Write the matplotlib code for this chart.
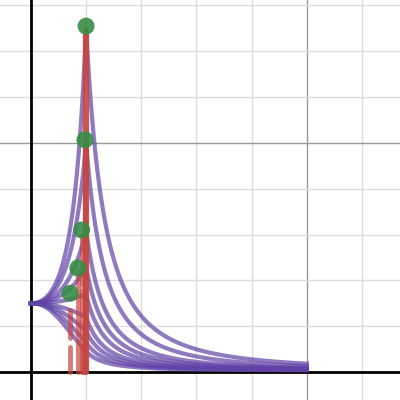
import numpy as np
import matplotlib.pyplot as plt

# curve peaks at x=1, all start at (0, 1.5)
peaks = [7.5, 5.0, 3.1, 2.3, 1.7, 1.2, 0.9, 0.65, 0.45]
start_y = 1.5
# green points
pt_x = [1.0, 0.98, 0.92, 0.85, 0.71]
pt_y = [7.55, 5.07, 3.10, 2.27, 1.72]
# red segments (x, y_bottom, y_top)
seg_x = [1.0, 0.98, 0.92, 0.92, 0.85, 0.85, 0.71, 0.71, 0.95]
seg_lo = [0.0, 0.0, 0.0, 1.9, 0.0, 0.8, 0.0, 0.75, 0.0]
seg_hi = [7.4, 5.0, 1.8, 3.0, 0.7, 2.2, 0.55, 1.35, 0.6]

fig = plt.figure(figsize=(4, 4), dpi=100)
ax = fig.add_axes([0, 0, 1, 1])
ax.set_xlim(-0.56, 6.69)
ax.set_ylim(-0.61, 8.12)

for v in np.arange(0, 7, 1):
    ax.axvline(v, color='#999999' if v % 5 == 0 else '#dddddd', lw=1, zorder=0)
for v in np.arange(0, 9, 1):
    ax.axhline(v, color='#999999' if v % 5 == 0 else '#dddddd', lw=1, zorder=0)
ax.axhline(0, color='black', lw=2, zorder=1)
ax.axvline(0, color='black', lw=2, zorder=1)

xl = np.linspace(0, 1, 300)
xr = np.linspace(1, 5, 600)
for p in peaks:
    left = start_y * (p / start_y) ** (xl ** 2.3)
    right = 0.03 + (p - 0.03) / (1 + 1.5 * (xr - 1)) ** 2
    ax.plot(np.r_[xl, xr], np.r_[left, right], color='#6042a6', lw=3, alpha=0.7, zorder=2)

for i, (x, lo, hi) in enumerate(zip(seg_x, seg_lo, seg_hi)):
    ax.plot([x, x], [lo, hi], color='#c74440', lw=4.5 if i == 0 else 3.5,
            alpha=0.9 if i == 0 else 0.7, zorder=3, solid_capstyle='round')

ax.scatter(pt_x, pt_y, s=150, color='#388c46', alpha=0.9, zorder=4, edgecolors='none')
ax.axis('off')
fig.savefig('out.png')
